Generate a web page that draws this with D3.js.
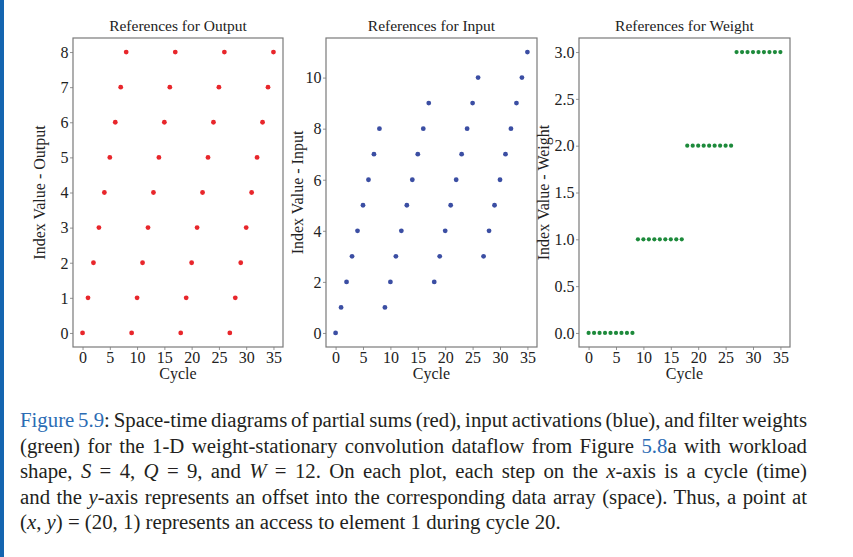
<!DOCTYPE html>
<html><head><meta charset="utf-8">
<script src="https://cdn.jsdelivr.net/npm/d3@7/dist/d3.min.js"></script>
<style>
html,body{margin:0;padding:0;background:#fff;}
svg{display:block;}
</style></head>
<body>
<svg id="c" width="853" height="557"></svg>
<script>
// ---- data ----
const cycles = d3.range(0, 36);
const outputIdx = [0,1,2,3,4,5,6,7,8, 0,1,2,3,4,5,6,7,8, 0,1,2,3,4,5,6,7,8, 0,1,2,3,4,5,6,7,8];
const inputIdx  = [0,1,2,3,4,5,6,7,8, 1,2,3,4,5,6,7,8,9, 2,3,4,5,6,7,8,9,10, 3,4,5,6,7,8,9,10,11];
const weightIdx = [0,0,0,0,0,0,0,0,0, 1,1,1,1,1,1,1,1,1, 2,2,2,2,2,2,2,2,2, 3,3,3,3,3,3,3,3,3];
const xTicks = [0,5,10,15,20,25,30,35];
const outYTicks = [0,1,2,3,4,5,6,7,8];
const inYTicks = [0,2,4,6,8,10];
const wYTicks = [0,0.5,1,1.5,2,2.5,3];
const titles = ["References for Output","References for Input","References for Weight"];
const yLabels = ["Index Value - Output","Index Value - Input","Index Value - Weight"];
const xLabel = "Cycle";

const svg = d3.select("#c");
const FONT = "'Liberation Serif','DejaVu Serif',serif";

const panels = [
  {x0:73, x1:283, vals:outputIdx, yd:[-0.4,8.4], yt:outYTicks, fmt:d3.format("d"), color:"#e8262b", r:2.4, ylx:45},
  {x0:326, x1:537, vals:inputIdx, yd:[-0.55,11.55], yt:inYTicks, fmt:d3.format("d"), color:"#3b4ea3", r:2.4, ylx:303},
  {x0:579, x1:790, vals:weightIdx, yd:[-0.15,3.15], yt:wYTicks, fmt:d3.format(".1f"), color:"#1d8a3b", r:2.1, ylx:549}
];
const y0 = 38, y1 = 347;

panels.forEach((p,i)=>{
  const x = d3.scaleLinear().domain([-1.75,36.75]).range([p.x0,p.x1]);
  const y = d3.scaleLinear().domain(p.yd).range([y1,y0]);
  const g = svg.append("g");

  const xa = g.append("g").attr("transform",`translate(0,${y1})`)
    .call(d3.axisBottom(x).tickValues(xTicks).tickSize(3).tickPadding(1.5).tickFormat(d3.format("d")));
  const ya = g.append("g").attr("transform",`translate(${p.x0},0)`)
    .call(d3.axisLeft(y).tickValues(p.yt).tickSize(3).tickPadding(1.5).tickFormat(p.fmt));
  [xa,ya].forEach(a=>{
    a.attr("font-size",null).attr("font-family",null);
    a.select(".domain").remove();
    a.selectAll("line").attr("stroke","#888").attr("stroke-width",0.9);
    a.selectAll("text").style("font-family",FONT).style("font-size","16px").attr("fill","#222");
  });
  xa.selectAll("text").attr("dy","0.72em");
  ya.selectAll("text").attr("dy","0.33em");

  g.append("rect").attr("x",p.x0).attr("y",y0).attr("width",p.x1-p.x0).attr("height",y1-y0)
    .attr("fill","none").attr("stroke","#7a7a7a").attr("stroke-width",1.2);

  g.selectAll("circle").data(cycles).join("circle")
    .attr("cx",d=>x(d)).attr("cy",(d,j)=>y(p.vals[j])).attr("r",p.r).attr("fill",p.color);

  g.append("text").attr("x",(p.x0+p.x1)/2).attr("y",31).attr("text-anchor","middle")
    .style("font-family",FONT).style("font-size","15.5px").attr("fill","#222").text(titles[i]);
  g.append("text").attr("x",(p.x0+p.x1)/2).attr("y",379).attr("text-anchor","middle")
    .style("font-family",FONT).style("font-size","16px").attr("fill","#222").text(xLabel);
  g.append("text").attr("transform",`translate(${p.ylx},${(y0+y1)/2}) rotate(-90)`).attr("text-anchor","middle")
    .style("font-family",FONT).style("font-size","16px").attr("fill","#222").text(yLabels[i]);
});

// left blue bar
svg.append("rect").attr("x",0).attr("y",0).attr("width",4).attr("height",557).attr("fill","#1565b0");

// caption
const BLUE = "#2b6cb4";
const capLines = [
  [["Figure 5.9","b"],[": Space-time diagrams of partial sums (red), input activations (blue), and filter weights",""]],
  [["(green) for the 1-D weight-stationary convolution dataflow from Figure ",""],["5.8","b"],["a with workload",""]],
  [["shape, ",""],["S","i"],[" = 4, ",""],["Q","i"],[" = 9, and ",""],["W","i"],[" = 12. On each plot, each step on the ",""],["x","i"],["-axis is a cycle (time)",""]],
  [["and the ",""],["y","i"],["-axis represents an offset into the corresponding data array (space). Thus, a point at",""]],
  [["(",""],["x","i"],[", ",""],["y","i"],[") = (20, 1) represents an access to element 1 during cycle 20.",""]]
];
const capBase = [427, 452.5, 478, 503.5, 528.5];
const capL = 20, capR = 807;
capLines.forEach((line,k)=>{
  const t = svg.append("text").attr("x",capL).attr("y",capBase[k])
    .style("font-family",FONT).style("font-size","20.8px").attr("fill","#231f20");
  line.forEach(([s,st])=>{
    const ts = t.append("tspan").text(s);
    if(st==="b") ts.attr("fill",BLUE);
    if(st==="i") ts.attr("font-style","italic");
  });
  if(k < capLines.length-1){
    const w = t.node().getComputedTextLength();
    const nSp = line.map(d=>d[0]).join("").split(" ").length-1;
    t.style("word-spacing", ((capR-capL-w)/nSp)+"px");
  }
});
</script>
</body></html>
